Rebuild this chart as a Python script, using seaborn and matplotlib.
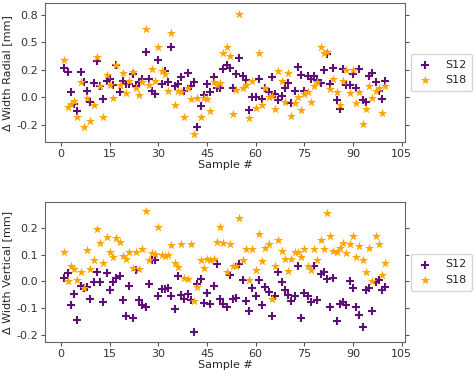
import numpy as np
import pandas as pd
import matplotlib
matplotlib.use('Agg')
import matplotlib.pyplot as plt
import seaborn as sns
from matplotlib.ticker import FormatStrFormatter

sample = np.arange(1, 101)

radial_s12 = [0.27, 0.23, 0.05, -0.06, -0.13, 0.23, 0.14, 0.06, -0.04, 0.13,
              0.33, 0.10, -0.02, 0.15, 0.17, 0.11, 0.29, 0.05, 0.15, 0.12,
              0.12, 0.21, 0.10, 0.14, 0.17, 0.41, 0.17, 0.06, 0.03, 0.34,
              0.12, 0.24, 0.14, 0.46, 0.10, 0.12, 0.18, 0.06, 0.22, 0.10,
              0.14, -0.27, -0.08, 0.02, 0.12, 0.05, 0.18, 0.08, 0.08, 0.26,
              0.29, 0.27, 0.08, 0.21, 0.36, 0.19, 0.16, -0.12, 0.005, 0.005,
              0.17, -0.02, 0.085, 0.045, 0.18, 0.025, -0.025, 0.015, 0.085, 0.13,
              -0.055, 0.06, 0.28, 0.20, 0.055, 0.19, 0.17, 0.19, 0.16, 0.13,
              0.25, 0.39, 0.12, 0.27, -0.025, -0.11, 0.26, 0.11, 0.11, 0.21,
              0.085, 0.26, -0.025, -0.045, 0.19, 0.22, 0.14, 0.06, -0.015, 0.15]

radial_s18 = [0.34, -0.09, -0.06, -0.03, -0.18, 0.14, -0.27, -0.01, -0.22, -0.07,
              0.37, 0.10, -0.18, 0.20, 0.11, -0.01, 0.29, 0.11, 0.22, 0.04,
              0.15, 0.23, 0.085, 0.02, 0.14, 0.62, 0.11, 0.26, 0.15, 0.46,
              0.24, 0.21, 0.06, 0.59, -0.07, 0.055, 0.045, -0.18, 0.085, -0.02,
              -0.34, -0.01, -0.18, -0.01, -0.02, -0.13, 0.14, 0.11, 0.13, 0.40,
              0.46, 0.38, -0.15, 0.07, 0.76, 0.085, 0.11, -0.19, 0.15, -0.10,
              0.40, -0.07, 0.085, 0.0, 0.015, -0.11, 0.24, 0.15, -0.04, 0.22,
              -0.17, -0.055, 0.0, -0.12, 0.025, 0.045, -0.045, 0.10, 0.14, 0.46,
              0.40, 0.41, 0.075, 0.17, 0.045, -0.07, 0.15, 0.25, 0.035, 0.25,
              -0.055, 0.045, -0.24, -0.11, 0.10, -0.005, 0.06, 0.085, -0.14, 0.10]

vertical_s12 = [0.014, 0.031, -0.087, -0.046, -0.146, -0.019, -0.024, -0.021, -0.065, -0.002,
                0.035, -0.002, -0.077, 0.031, -0.034, -0.002, 0.014, 0.019, -0.069, -0.131,
                -0.019, -0.136, 0.041, -0.069, -0.09, -0.094, -0.009, 0.081, 0.081, -0.056,
                -0.027, -0.027, -0.024, -0.056, -0.102, 0.019, -0.052, -0.065, -0.049, -0.07,
                -0.19, -0.009, 0.01, -0.081, -0.044, -0.084, -0.019, 0.064, -0.065, -0.084,
                -0.094, 0.022, -0.065, -0.061, 0.064, 0.006, -0.074, -0.109, -0.024, -0.056,
                0.004, -0.09, -0.021, -0.04, -0.131, -0.056, 0.035, -0.002, -0.031, -0.052,
                -0.074, -0.056, 0.056, -0.136, -0.044, -0.056, -0.077, 0.056, -0.071, 0.026,
                0.035, 0.01, -0.094, 0.014, -0.149, -0.086, -0.077, -0.09, 0.001, -0.024,
                -0.094, -0.127, -0.171, -0.031, -0.024, -0.109, -0.002, 0.004, -0.034, -0.021]

vertical_s18 = [0.11, 0.0, 0.056, 0.047, 0.006, 0.035, -0.024, 0.116, 0.047, 0.08,
                0.197, 0.144, 0.069, 0.166, 0.11, 0.091, 0.16, 0.147, 0.094, 0.085,
                0.11, 0.05, 0.11, 0.047, 0.122, 0.263, 0.081, 0.104, 0.101, 0.201,
                0.097, 0.094, 0.097, 0.135, 0.069, 0.054, 0.139, 0.014, 0.01, 0.139,
                -0.074, -0.021, 0.079, 0.051, 0.085, 0.079, 0.085, 0.147, 0.201, 0.144,
                0.035, 0.139, 0.056, 0.056, 0.238, 0.081, 0.119, 0.006, 0.119, 0.044,
                0.176, 0.076, 0.126, 0.139, -0.065, 0.056, 0.154, 0.114, 0.085, 0.039,
                0.085, 0.11, 0.11, 0.091, 0.122, 0.056, 0.044, 0.119, 0.081, 0.156,
                0.119, 0.256, 0.169, 0.114, 0.11, 0.126, 0.144, 0.106, 0.139, 0.169,
                0.089, 0.131, 0.081, 0.035, 0.126, 0.001, 0.169, 0.139, 0.022, 0.069]

sns.set_style('ticks')
plt.rcParams['font.family'] = ['DejaVu Sans']
plt.rcParams['axes.unicode_minus'] = False

purple = '#5e0f78'
orange = '#ffa500'
fs = 8

fig = plt.figure(figsize=(4.74, 3.76), dpi=100)
ax1 = fig.add_axes([0.095, 0.622, 0.759, 0.370])
ax2 = fig.add_axes([0.095, 0.090, 0.759, 0.372])

panels = [
    (ax1, radial_s12, radial_s18, 'Δ Width Radial [mm]', (-0.41, 0.86), [-0.25, 0.0, 0.25, 0.5, 0.75]),
    (ax2, vertical_s12, vertical_s18, 'Δ Width Vertical [mm]', (-0.227, 0.295), [-0.2, -0.1, 0.0, 0.1, 0.2]),
]

for ax, s12, s18, ylabel, ylim, yticks in panels:
    sns.scatterplot(x=sample, y=s12, marker='+', color=purple, s=36, linewidth=1.5, label='S12', ax=ax)
    sns.scatterplot(x=sample, y=s18, marker='*', color=orange, s=48, linewidth=0, label='S18', ax=ax)
    ax.set_xlim(-5, 106)
    ax.set_ylim(*ylim)
    ax.set_xticks(range(0, 106, 15))
    ax.set_yticks(yticks)
    ax.yaxis.set_major_formatter(FormatStrFormatter('%.1f'))
    ax.set_xlabel('Sample #', fontsize=fs, labelpad=1)
    ax.set_ylabel(ylabel, fontsize=fs, labelpad=3)
    ax.tick_params(labelsize=fs, right=True, length=3, color='#555555', labelcolor='#333333', pad=2)
    for sp in ax.spines.values():
        sp.set_visible(True)
        sp.set_color('#666666')
    ax.legend(loc='center left', bbox_to_anchor=(1.005, 0.5), borderaxespad=0.4, fontsize=fs,
              handlelength=1.6, handletextpad=1.0, borderpad=0.5, frameon=True)

fig.savefig('out.png', dpi=100)
